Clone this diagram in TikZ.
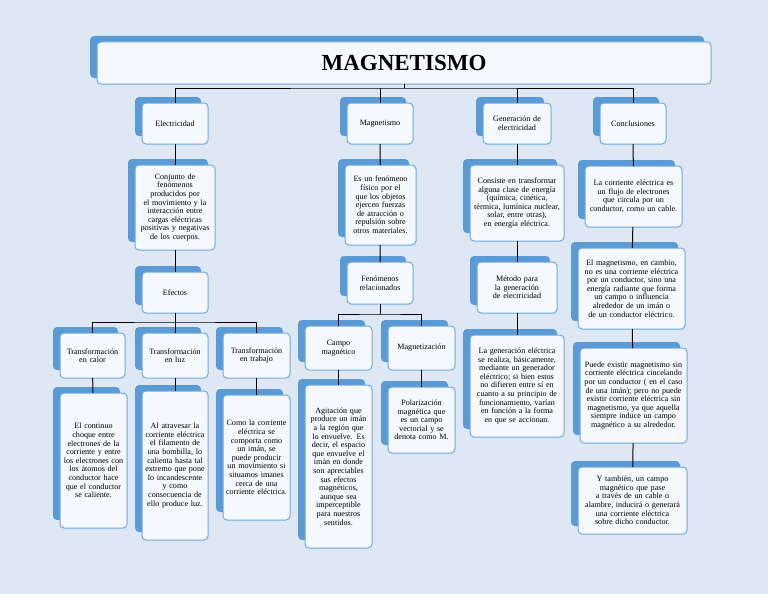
\documentclass[tikz,border=0pt]{standalone}
\usepackage{fontspec}
\setmainfont{Liberation Serif}
\hyphenpenalty=10000
\exhyphenpenalty=10000
\definecolor{bgc}{HTML}{DEE8F4}
\definecolor{backc}{HTML}{5B9BD5}
\definecolor{edgec}{HTML}{6FA8DC}
\definecolor{frontc}{HTML}{F5F8FC}
\tikzset{front/.style={draw=edgec,line width=1pt,fill=frontc,rounded corners=4pt,inner sep=1pt,outer sep=0pt,align=center,font=\fontsize{8.1}{8.6}\selectfont},
 conn/.style={line width=1pt,black}}
\newcommand\cbx[6]{%
 \fill[backc,rounded corners=4pt] (#2-7,#3-6) rectangle (#4-7,#5-8);
 \node[front,minimum width={(#4-#2)*1pt},minimum height={(#5-#3)*1pt},text width={(#4-#2-6)*1pt}] (#1) at ({(#2+#4)/2},{(#3+#5)/2}) {#6};}
\begin{document}
\begin{tikzpicture}[x=1pt,y=-1pt]
\fill[bgc] (0,0) rectangle (768,594);
\useasboundingbox (0,0) rectangle (768,594);
\fill[backc,rounded corners=4pt] (90,36) rectangle (704,78);
\node[front,minimum width=614pt,minimum height=42pt,font=\bfseries\fontsize{23}{25}\selectfont] (title) at (404,63) {MAGNETISMO};
\cbx{elec}{142}{103}{208}{144}{Electricidad}
\cbx{magn}{347}{103}{413}{144}{Magnetismo}
\cbx{gene}{483}{103}{551}{144}{Generación de electricidad}
\cbx{conc}{600}{103}{666}{144}{Conclusiones}
\cbx{conj}{135}{165}{215}{250}{Conjunto de fenómenos producidos por el movimiento y la interacción entre cargas eléctricas positivas y negativas de los cuerpos.}
\cbx{efec}{142}{272}{208}{313}{Efectos}
\cbx{calor}{60}{333}{125}{378}{Transformación en calor}
\cbx{luz}{142}{333}{208}{378}{Transformación en luz}
\cbx{trab}{223}{333}{290}{378}{Transformación en trabajo}
\cbx{tcalor}{60}{393}{127}{528}{El continuo choque entre electrones de la corriente y entre los electrones con los átomos del conductor hace que el conductor se caliente.}
\cbx{tluz}{142}{391}{208}{540}{Al atravesar la corriente eléctrica el filamento de una bombilla, lo calienta hasta tal extremo que pone lo incandescente y como consecuencia de ello produce luz.}
\cbx{ttrab}{223}{395}{290}{520}{Como la corriente eléctrica se comporta como un imán, se puede producir un movimiento si situamos imanes cerca de una corriente eléctrica.}
\cbx{esun}{345}{165}{416}{245}{Es un fenómeno físico por el que los objetos ejercen fuerzas de atracción o repulsión sobre otros materiales.}
\cbx{feno}{347}{262}{413}{304}{Fenómenos relacionados}
\cbx{campo}{305}{326}{372}{370}{Campo\\ magnético}
\cbx{mgz}{388}{326}{455}{370}{Magnetización}
\cbx{agit}{305}{385}{372}{548}{Agitación que produce un imán a la región que lo envuelve. Es decir, el espacio que envuelve el imán en donde son apreciables sus efectos magnéticos, aunque sea imperceptible para nuestros sentidos.}
\cbx{pola}{388}{387}{455}{453}{Polarización magnética que es un campo vectorial y se denota como M.}
\cbx{cons}{470}{165}{564}{241}{Consiste en transformar alguna clase de energía (química, cinética, térmica, lumínica nuclear, solar, entre otras), en energía eléctrica.}
\cbx{meto}{477}{262}{557}{313}{Método para la generación de electricidad}
\cbx{lagen}{470}{335}{564}{437}{La generación eléctrica se realiza, básicamente, mediante un generador eléctrico; si bien estos no difieren entre sí en cuanto a su principio de funcionamiento, varían en función a la forma en que se accionan.}
\cbx{c1}{585}{166}{682}{227}{La corriente eléctrica es un flujo de electrones que circula por un conductor, como un cable.}
\cbx{c2}{578}{248}{685}{329}{El magnetismo, en cambio, no es una corriente eléctrica por un conductor, sino una energía radiante que forma un campo o influencia alrededor de un imán o de un conductor eléctrico.}
\cbx{c3}{580}{348}{687}{443}{Puede existir magnetismo sin corriente eléctrica cincelando por un conductor ( en el caso de una imán); pero no puede existir corriente eléctrica sin magnetismo, ya que aquella siempre induce un campo magnético a su alrededor.}
\cbx{c4}{578}{467}{687}{534}{Y también, un campo magnético que pase a través de un cable o alambre, inducirá o generará una corriente eléctrica sobre dicho conductor.}
% connectors
\draw[conn] (title.south) -- ++(0,4) coordinate (tj);
\draw[conn] (elec.north) |- (tj) -| (conc.north);
\draw[conn] (magn.north) -- (magn.north |- tj);
\draw[conn] (gene.north) -- (gene.north |- tj);
\draw[conn] (elec) -- (conj);
\draw[conn] (conj) -- (efec);
\draw[conn] (efec.south) -- ++(0,9) coordinate (ej);
\draw[conn] (calor.north) |- (ej) -| (trab.north);
\draw[conn] (luz.north) -- (ej);
\draw[conn] (calor) -- (tcalor);
\draw[conn] (luz) -- (tluz);
\draw[conn] (trab) -- (ttrab);
\draw[conn] (magn) -- (esun);
\draw[conn] (esun) -- (feno);
\draw[conn] (feno.south) -- ++(0,10) coordinate (fj);
\draw[conn] (campo.north) |- (fj) -| (mgz.north);
\draw[conn] (campo) -- (agit);
\draw[conn] (mgz) -- (pola);
\draw[conn] (gene) -- (cons);
\draw[conn] (cons) -- (meto);
\draw[conn] (meto) -- (lagen);
\draw[conn] (conc) -- (c1);
\draw[conn] (c1) -- (c2);
\draw[conn] (c2) -- (c3);
\draw[conn] (c3) -- (c4);
\end{tikzpicture}
\end{document}
